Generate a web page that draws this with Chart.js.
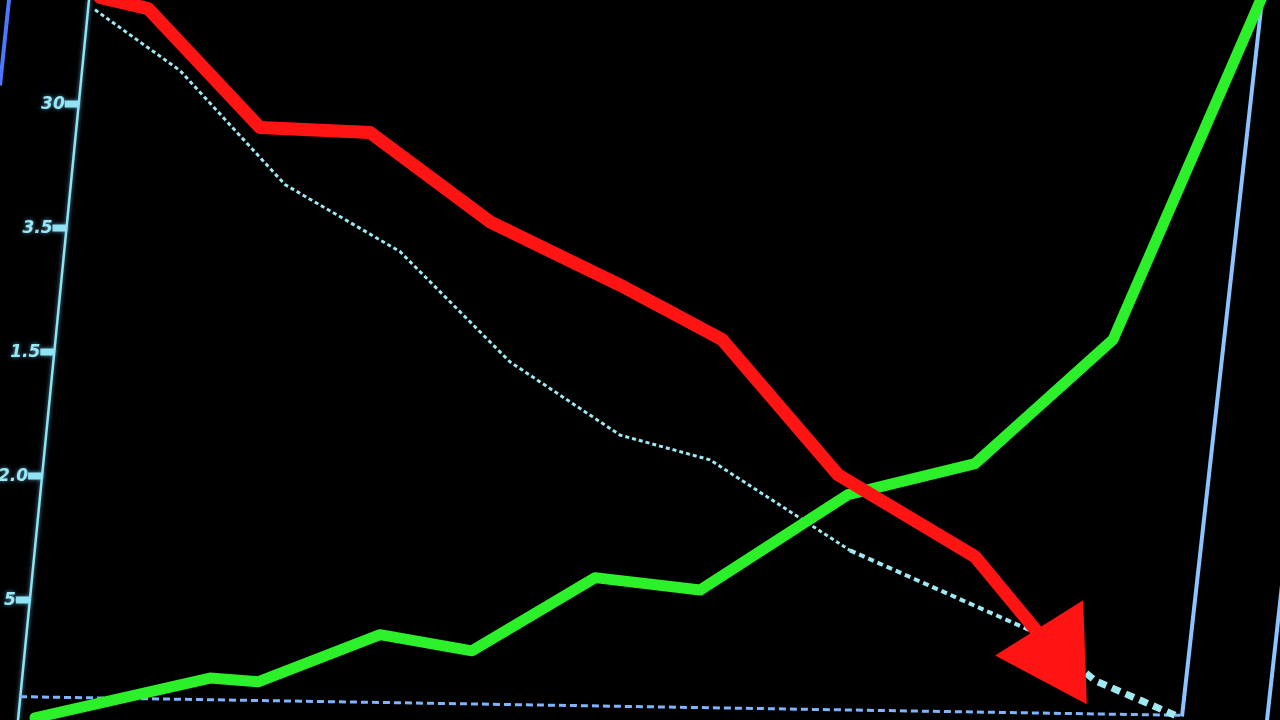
<!DOCTYPE html>
<html>
<head>
<meta charset="utf-8">
<style>
  html, body { margin: 0; padding: 0; background: #000; }
  #wrap { width: 1280px; height: 720px; position: relative; }
</style>
<script src="https://cdn.jsdelivr.net/npm/chart.js@4/dist/chart.umd.min.js"></script>
</head>
<body>
<div id="wrap"><canvas id="c" width="1280" height="720"></canvas></div>
<script>
// ---- data ----
const tickValues = [1, 2, 3, 4, 5];
const tickLabels = ["5", "2.0", "1.5", "3.5", "30"];

const redX = [10.0, 14.8, 26.0, 37.0, 49.0, 62.0, 72.2, 83.8, 97.5, 105.5];
const redY = [5.86, 5.77, 4.81, 4.77, 4.05, 3.54, 3.10, 2.01, 1.35, 0.57];

const greenX = [3.5, 21.0, 25.8, 38.0, 47.2, 59.5, 70.0, 84.8, 97.5, 111.3, 126.5];
const greenY = [0.05, 0.37, 0.34, 0.72, 0.59, 1.18, 1.08, 1.85, 2.10, 3.10, 5.92];

const cyanX = [9.5, 18.0, 28.5, 40.0, 51.0, 62.0, 71.0, 85.0, 104.0, 109.5, 117.5];
const cyanY = [5.76, 5.27, 4.35, 3.81, 2.92, 2.33, 2.13, 1.40, 0.72, 0.35, 0.07];

const baseX = [2.0, 118.0];
const baseY = [0.22, 0.07];

const frameRightX = [126.2, 118.2];
const frameRightY = [5.84, 0.06];
const edgeRightX = [128.2, 126.7];
const edgeRightY = [1.12, 0.03];
const edgeLeftX = [0.9, 0.0];
const edgeLeftY = [5.84, 5.15];

const axisTop = { x: 8.9, y: 5.84 };
const axisBottom = { x: 1.8, y: 0.03 };

function pts(xs, ys) { return xs.map((x, i) => ({ x: x, y: ys[i] })); }

const axisPlugin = {
  id: 'slantAxis',
  beforeDatasetsDraw(chart) {
    const { ctx, scales: { x, y } } = chart;
    const x0 = x.getPixelForValue(axisTop.x), y0 = y.getPixelForValue(axisTop.y);
    const x1 = x.getPixelForValue(axisBottom.x), y1 = y.getPixelForValue(axisBottom.y);
    ctx.save();
    ctx.strokeStyle = '#8fe3f2';
    ctx.shadowColor = 'rgba(120,210,255,0.7)';
    ctx.shadowBlur = 4;
    ctx.lineWidth = 2.5;
    ctx.beginPath(); ctx.moveTo(x0, y0); ctx.lineTo(x1, y1); ctx.stroke();
    ctx.font = 'italic bold 17px "DejaVu Sans"';
    ctx.textAlign = 'right';
    ctx.textBaseline = 'middle';
    tickValues.forEach((v, i) => {
      const py = y.getPixelForValue(v);
      const t = (py - y0) / (y1 - y0);
      const px = x0 + (x1 - x0) * t;
      ctx.lineWidth = 7;
      ctx.beginPath(); ctx.moveTo(px - 14, py); ctx.lineTo(px, py); ctx.stroke();
      ctx.fillStyle = '#9be8f5';
      ctx.fillText(tickLabels[i], px - 14, py + 1);
    });
    ctx.restore();
  }
};

new Chart(document.getElementById('c'), {
  type: 'line',
  data: {
    datasets: [
      {
        label: 'red', data: pts(redX, redY), order: 0,
        borderColor: '#ff1414', backgroundColor: '#ff1414', borderWidth: 13,
        borderCapStyle: 'round', borderJoinStyle: 'round',
        pointRadius: redX.map((_, i) => i === redX.length - 1 ? 60 : 0),
        pointStyle: 'triangle', pointRotation: 148, pointBorderWidth: 0
      },
      {
        label: 'green', data: pts(greenX, greenY), order: 1,
        borderColor: '#2cf02a', borderWidth: 11, pointRadius: 0,
        borderCapStyle: 'round', borderJoinStyle: 'round'
      },
      {
        label: 'cyan', data: pts(cyanX, cyanY), order: 2,
        borderColor: '#9fe9f2', borderWidth: 3, pointRadius: 0,
        borderDash: [4, 3],
        segment: {
          borderWidth: c => c.p0DataIndex >= 8 ? 7 : (c.p0DataIndex >= 7 ? 4 : 3),
          borderDash: c => c.p0DataIndex >= 8 ? [9, 6] : (c.p0DataIndex >= 7 ? [6, 4] : [4, 3])
        }
      },
      {
        label: 'base', data: pts(baseX, baseY), order: 3,
        borderColor: '#7fb4ff', borderWidth: 3, pointRadius: 0, borderDash: [7, 4]
      },
      {
        label: 'frameR', data: pts(frameRightX, frameRightY), order: 3,
        borderColor: '#8cc4ff', borderWidth: 4, pointRadius: 0
      },
      {
        label: 'edgeR', data: pts(edgeRightX, edgeRightY), order: 3,
        borderColor: '#8cc4ff', borderWidth: 4, pointRadius: 0
      },
      {
        label: 'edgeL', data: pts(edgeLeftX, edgeLeftY), order: 3,
        borderColor: '#4a78ff', borderWidth: 4, pointRadius: 0
      }
    ]
  },
  options: {
    responsive: false,
    animation: false,
    layout: { padding: 0, autoPadding: false },
    elements: { line: { tension: 0 } },
    plugins: { legend: { display: false }, tooltip: { enabled: false } },
    scales: {
      x: { type: 'linear', min: 0, max: 128, display: false },
      y: { type: 'linear', min: 0.032, max: 5.839, display: false }
    }
  },
  plugins: [axisPlugin]
});
</script>
</body>
</html>
